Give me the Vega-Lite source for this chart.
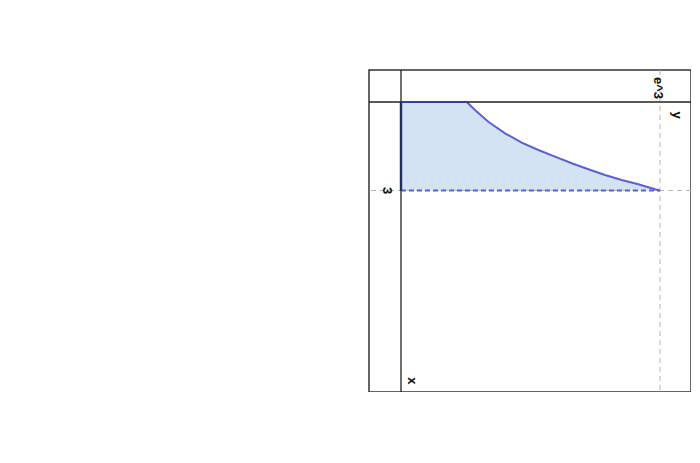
{
  "$schema": "https://vega.github.io/schema/vega-lite/v6.json",
  "width": 322,
  "height": 322,
  "autosize": {"type": "none"},
  "padding": {"left": 369, "top": 70, "right": 0, "bottom": 0},
  "background": "white",
  "datasets": {
    "curve": [
      {"xv": 0, "yv": 0},
      {"xv": 0, "yv": 5.10},
      {"xv": 0.271, "yv": 5.74},
      {"xv": 0.668, "yv": 6.77},
      {"xv": 1.061, "yv": 8.07},
      {"xv": 1.380, "yv": 9.36},
      {"xv": 1.627, "yv": 10.65},
      {"xv": 1.854, "yv": 11.94},
      {"xv": 2.078, "yv": 13.24},
      {"xv": 2.281, "yv": 14.53},
      {"xv": 2.475, "yv": 15.82},
      {"xv": 2.644, "yv": 17.12},
      {"xv": 2.790, "yv": 18.40},
      {"xv": 2.959, "yv": 19.70},
      {"xv": 3, "yv": 20.0855}
    ],
    "bottom": [
      {"xv": 3, "yv": 0},
      {"xv": 3, "yv": 20.0855}
    ],
    "labels": [
      {"xv": 3, "yv": -1.09, "text": "3"},
      {"xv": -0.475, "yv": 19.93, "text": "e^3"},
      {"xv": 9.45, "yv": 0.83, "text": "x"},
      {"xv": 0.44, "yv": 21.38, "text": "y"}
    ],
    "one": [{}]
  },
  "layer": [
    {
      "data": {"name": "curve"},
      "transform": [{"filter": "datum.xv > 0 || datum.yv > 0"}],
      "mark": {"type": "area", "orient": "horizontal", "color": "#d3e3f3", "opacity": 1},
      "encoding": {
        "x": {"field": "yv", "type": "quantitative", "scale": {"domain": [-2.482, 22.49], "nice": false, "zero": false}, "axis": null},
        "y": {"field": "xv", "type": "quantitative", "scale": {"domain": [-1.085, 9.831], "nice": false, "zero": false, "reverse": true}, "axis": null}
      }
    },
    {
      "data": {"name": "one"},
      "mark": {"type": "rule", "color": "#b5b5b5", "strokeDash": [5, 4], "strokeWidth": 1},
      "encoding": {"x": {"datum": 20.0855, "type": "quantitative"}}
    },
    {
      "data": {"name": "one"},
      "mark": {"type": "rule", "color": "#b5b5b5", "strokeDash": [5, 4], "strokeWidth": 1},
      "encoding": {"y": {"datum": 3, "type": "quantitative"}}
    },
    {
      "data": {"name": "bottom"},
      "mark": {"type": "line", "color": "#5c5fd6", "strokeWidth": 2, "strokeDash": [5, 3]},
      "encoding": {
        "x": {"field": "yv", "type": "quantitative"},
        "y": {"field": "xv", "type": "quantitative"}
      }
    },
    {
      "data": {"values": [{"xv": 3, "yv": 0, "ord": 0}, {"xv": 0, "yv": 0, "ord": 1}]},
      "mark": {"type": "line", "color": "#3a3da8", "strokeWidth": 2.5},
      "encoding": {
        "x": {"field": "yv", "type": "quantitative"},
        "y": {"field": "xv", "type": "quantitative"},
        "order": {"field": "ord"}
      }
    },
    {
      "data": {"name": "curve"},
      "transform": [{"filter": "datum.yv > 0"}],
      "mark": {"type": "line", "color": "#5c5fd6", "strokeWidth": 2},
      "encoding": {
        "x": {"field": "yv", "type": "quantitative"},
        "y": {"field": "xv", "type": "quantitative"},
        "order": {"field": "yv"}
      }
    },
    {
      "data": {"name": "one"},
      "mark": {"type": "rule", "color": "#222222", "strokeWidth": 1.3},
      "encoding": {"x": {"datum": 0, "type": "quantitative"}}
    },
    {
      "data": {"name": "one"},
      "mark": {"type": "rule", "color": "#222222", "strokeWidth": 1.3},
      "encoding": {"y": {"datum": 0, "type": "quantitative"}}
    },
    {
      "data": {"values": [{"xv": 0, "yv": 0, "ord": 0}, {"xv": 0, "yv": 5.10, "ord": 1}]},
      "mark": {"type": "line", "color": "#3a3da8", "strokeWidth": 2},
      "encoding": {
        "x": {"field": "yv", "type": "quantitative"},
        "y": {"field": "xv", "type": "quantitative"},
        "order": {"field": "ord"}
      }
    },
    {
      "data": {"name": "labels"},
      "mark": {"type": "text", "angle": 90, "font": "Liberation Sans", "fontSize": 13, "fontWeight": "bold", "color": "#111111", "align": "center", "baseline": "middle"},
      "encoding": {
        "x": {"field": "yv", "type": "quantitative"},
        "y": {"field": "xv", "type": "quantitative"},
        "text": {"field": "text"}
      }
    }
  ],
  "config": {
    "view": {"stroke": "#333333", "strokeWidth": 1.5}
  }
}
